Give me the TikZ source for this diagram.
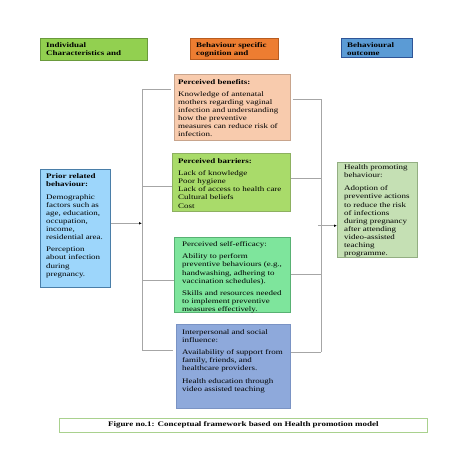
\documentclass[tikz,border=0pt]{standalone}
\usepackage{fontspec}
\setmainfont{Liberation Serif}[FakeStretch=1.28]
\usetikzlibrary{arrows.meta}
\definecolor{hgreenF}{HTML}{92D050}\definecolor{hgreenD}{HTML}{6A9A3C}
\definecolor{horangeF}{HTML}{ED7D31}\definecolor{horangeD}{HTML}{B85C20}
\definecolor{hblueF}{HTML}{5B9BD5}\definecolor{hblueD}{HTML}{2F5597}
\definecolor{benF}{HTML}{F8CBAD}\definecolor{benD}{HTML}{C8A48C}
\definecolor{barF}{HTML}{A9DB6A}\definecolor{barD}{HTML}{8DB060}
\definecolor{priF}{HTML}{9DD6FB}\definecolor{priD}{HTML}{4A7EA8}
\definecolor{heaF}{HTML}{C5E0B4}\definecolor{heaD}{HTML}{93AE82}
\definecolor{selF}{HTML}{7EE59C}\definecolor{selD}{HTML}{58B173}
\definecolor{intF}{HTML}{8EA9DB}\definecolor{intD}{HTML}{7A93C4}
\definecolor{capD}{HTML}{A9D18E}
\definecolor{lineC}{HTML}{A6A6A6}
\begin{document}
\begin{tikzpicture}[x=1pt,y=-1pt,
  box/.style={rectangle,inner sep=0pt,line width=0.6pt,anchor=north west},
  txt/.style={inner sep=0pt,anchor=north west,align=left,font=\fontsize{7}{8.1}\selectfont},
  htxt/.style={txt,font=\fontsize{7}{8.3}\selectfont\bfseries},
  conn/.style={draw=lineC,line width=0.7pt},
  arr/.style={conn,-{Latex[black,length=3pt,width=2.6pt]}}]
\useasboundingbox[fill=white] (0,0) rectangle (453,453);
% headers
\node[box,fill=hgreenF,draw=hgreenD,minimum width=107pt,minimum height=22pt] (h1) at (40,38) {};
\node[htxt] (h1t) at (46,42.5) {Individual\\Characteristics and};
\node[box,fill=horangeF,draw=horangeD,minimum width=88pt,minimum height=21pt] (h2) at (190,38) {};
\node[htxt] (h2t) at (196,42.5) {Behaviour specific\\cognition and};
\node[box,fill=hblueF,draw=hblueD,minimum width=71pt,minimum height=19pt] (h3) at (341,38) {};
\node[htxt] (h3t) at (347,42.5) {Behavioural\\outcome};
% benefits
\node[box,fill=benF,draw=benD,minimum width=116pt,minimum height=66pt] (ben) at (174,74) {};
\node[txt] (bent) at (178,79.6) {\textbf{Perceived benefits:}\\[3.2pt]Knowledge of antenatal\\mothers regarding vaginal\\infection and understanding\\how the preventive\\measures can reduce risk of\\infection.};
% barriers
\node[box,fill=barF,draw=barD,minimum width=118pt,minimum height=58pt] (bar) at (172,153) {};
\node[txt] (bart) at (178,158) {\textbf{Perceived barriers:}\\[4.5pt]Lack of knowledge\\Poor hygiene\\Lack of access to health care\\Cultural beliefs\\Cost};
% self-efficacy
\node[box,fill=selF,draw=selD,minimum width=116pt,minimum height=75pt] (sel) at (174,237) {};
\node[txt] (selt) at (182,241.4) {Perceived self-efficacy:\\[4.2pt]Ability to perform\\preventive behaviours (e.g.,\\handwashing, adhering to\\vaccination schedules).\\[4pt]Skills and resources needed\\to implement preventive\\measures effectively.};
% interpersonal
\node[box,fill=intF,draw=intD,minimum width=114pt,minimum height=84pt] (int) at (176,324) {};
\node[txt] (intt) at (182,329.4) {Interpersonal and social\\influence:\\[4pt]Availability of support from\\family, friends, and\\healthcare providers.\\[4.2pt]Health education through\\video assisted teaching};
% prior
\node[box,fill=priF,draw=priD,minimum width=70pt,minimum height=118pt] (pri) at (40,169) {};
\node[txt] (prit) at (46,173.6) {\textbf{Prior related}\\\textbf{behaviour:}\\[4.2pt]Demographic\\factors such as\\age, education,\\occupation,\\income,\\residential area.\\[4.2pt]Perception\\about infection\\during\\pregnancy.};
% health
\node[box,fill=heaF,draw=heaD,minimum width=80pt,minimum height=95pt] (hea) at (337,162) {};
\node[txt] (heat) at (344,164.6) {Health promoting\\behaviour:\\[5pt]Adoption of\\preventive actions\\to reduce the risk\\of infections\\during pregnancy\\after attending\\video-assisted\\teaching\\programme.};
% caption
\node[box,fill=white,draw=capD,minimum width=368pt,minimum height=14pt] (cap) at (59,418) {};
\node[font=\fontsize{7}{8.1}\selectfont\bfseries,inner sep=0pt] (capt) at (cap.center) {Figure no.1: Conceptual framework based on Health promotion model};
% connectors
\coordinate (lt) at (142,89);
\coordinate (lb) at (142,350);
\coordinate (rt) at (321,99);
\coordinate (rb) at (321,352);
\draw[conn] (lt) -- (lb);
\draw[conn] (rt) -- (rb);
\draw[conn] (lt) -- ([xshift=-3pt]lt -| ben.west);
\draw[conn] (142,186) -- (bar.west |- 0,186);
\draw[conn] (142,280) -- (sel.west |- 0,280);
\draw[conn] (lb) -- ([xshift=-3pt]lb -| int.west);
\draw[conn] ([xshift=2pt]rt -| ben.east) -- (rt);
\draw[conn] (bar.east |- 0,178) -- (321,178);
\draw[conn] (sel.east |- 0,274) -- (321,274);
\draw[conn] (int.east |- rb) -- (rb);
\draw[arr] (pri.east |- 0,223.3) -- (142,223.3);
\draw[arr] (318,225.7) -- (hea.west |- 0,225.7);
\end{tikzpicture}
\end{document}
